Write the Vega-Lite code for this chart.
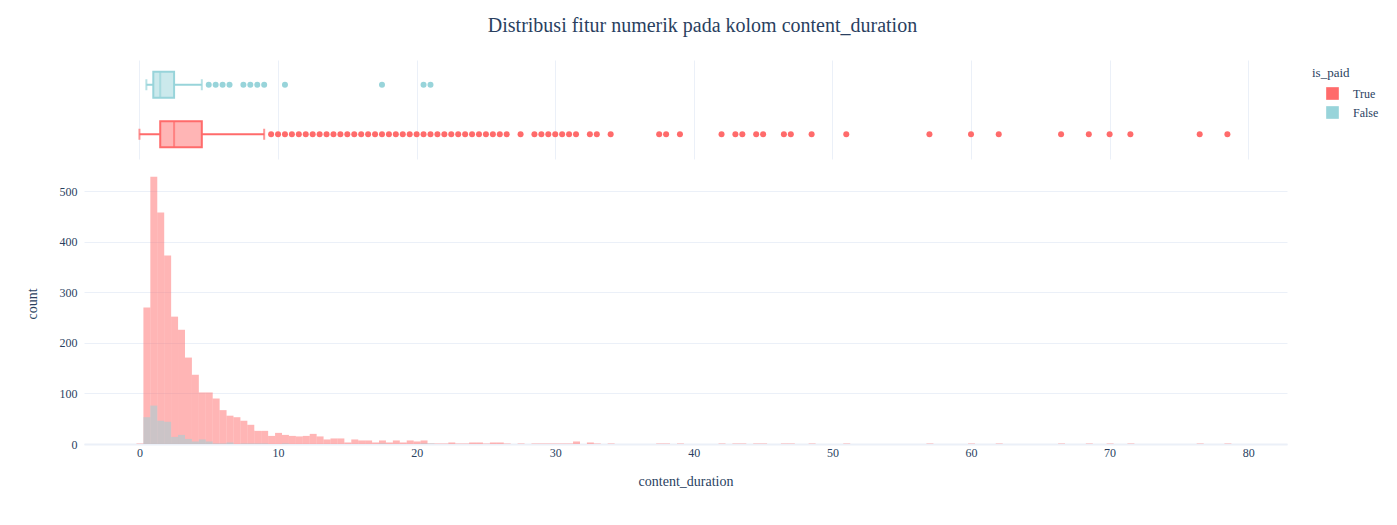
{
  "$schema": "https://vega.github.io/schema/vega-lite/v6.json",
  "background": "white",
  "padding": {"left": 25, "top": 16, "right": 5, "bottom": 5},
  "title": {"text": "Distribusi fitur numerik pada kolom content_duration", "font": "Liberation Serif", "fontSize": 20, "fontWeight": "normal", "color": "#2a3f5f", "anchor": "middle", "offset": 24, "dx": -3},
  "config": {
    "font": "Liberation Serif",
    "view": {"stroke": null},
    "axis": {"labelFont": "Liberation Serif", "titleFont": "Liberation Serif", "labelColor": "#2a3f5f", "titleColor": "#2a3f5f", "labelFontSize": 12, "titleFontSize": 14, "titleFontWeight": "normal", "gridColor": "#EBF0F8", "ticks": false, "domain": false},
    "legend": {"titleFont": "Liberation Serif", "labelFont": "Liberation Serif", "titleFontSize": 13, "labelFontSize": 12, "titleFontWeight": "normal", "titleColor": "#2a3f5f", "labelColor": "#2a3f5f", "symbolType": "square", "symbolSize": 160, "symbolOpacity": 1, "symbolStrokeWidth": 0, "rowPadding": 6, "symbolOffset": 14, "labelOffset": 14, "offset": 18, "padding": 7, "titlePadding": 7}
  },
  "resolve": {"scale": {"color": "shared"}, "legend": {"color": "shared"}},
  "datasets": {
    "boxstats": [
      {"is_paid": "True", "lower": 0, "q1": 1.5, "median": 2.5, "q3": 4.5, "upper": 9.0},
      {"is_paid": "False", "lower": 0.5, "q1": 1.0, "median": 1.5, "q3": 2.5, "upper": 4.5}
    ],
    "outliers": [
      {"is_paid": "True", "content_duration": 9.5}, {"is_paid": "True", "content_duration": 10}, {"is_paid": "True", "content_duration": 10.5}, {"is_paid": "True", "content_duration": 11}, {"is_paid": "True", "content_duration": 11.5}, {"is_paid": "True", "content_duration": 12}, {"is_paid": "True", "content_duration": 12.5}, {"is_paid": "True", "content_duration": 13}, {"is_paid": "True", "content_duration": 13.5}, {"is_paid": "True", "content_duration": 14}, {"is_paid": "True", "content_duration": 14.5}, {"is_paid": "True", "content_duration": 15}, {"is_paid": "True", "content_duration": 15.5}, {"is_paid": "True", "content_duration": 16}, {"is_paid": "True", "content_duration": 16.5}, {"is_paid": "True", "content_duration": 17}, {"is_paid": "True", "content_duration": 17.5}, {"is_paid": "True", "content_duration": 18}, {"is_paid": "True", "content_duration": 18.5}, {"is_paid": "True", "content_duration": 19}, {"is_paid": "True", "content_duration": 19.5}, {"is_paid": "True", "content_duration": 20}, {"is_paid": "True", "content_duration": 20.5}, {"is_paid": "True", "content_duration": 21}, {"is_paid": "True", "content_duration": 21.5}, {"is_paid": "True", "content_duration": 22}, {"is_paid": "True", "content_duration": 22.5}, {"is_paid": "True", "content_duration": 23}, {"is_paid": "True", "content_duration": 23.5}, {"is_paid": "True", "content_duration": 24}, {"is_paid": "True", "content_duration": 24.5}, {"is_paid": "True", "content_duration": 25}, {"is_paid": "True", "content_duration": 25.5}, {"is_paid": "True", "content_duration": 26}, {"is_paid": "True", "content_duration": 26.5},
      {"is_paid": "True", "content_duration": 27.5}, {"is_paid": "True", "content_duration": 28.5}, {"is_paid": "True", "content_duration": 29}, {"is_paid": "True", "content_duration": 29.5}, {"is_paid": "True", "content_duration": 30}, {"is_paid": "True", "content_duration": 30.5}, {"is_paid": "True", "content_duration": 31}, {"is_paid": "True", "content_duration": 31.5}, {"is_paid": "True", "content_duration": 32.5}, {"is_paid": "True", "content_duration": 33}, {"is_paid": "True", "content_duration": 34}, {"is_paid": "True", "content_duration": 37.5}, {"is_paid": "True", "content_duration": 38}, {"is_paid": "True", "content_duration": 39}, {"is_paid": "True", "content_duration": 42}, {"is_paid": "True", "content_duration": 43}, {"is_paid": "True", "content_duration": 43.5}, {"is_paid": "True", "content_duration": 44.5}, {"is_paid": "True", "content_duration": 45}, {"is_paid": "True", "content_duration": 46.5}, {"is_paid": "True", "content_duration": 47}, {"is_paid": "True", "content_duration": 48.5}, {"is_paid": "True", "content_duration": 51}, {"is_paid": "True", "content_duration": 57}, {"is_paid": "True", "content_duration": 60}, {"is_paid": "True", "content_duration": 62}, {"is_paid": "True", "content_duration": 66.5}, {"is_paid": "True", "content_duration": 68.5}, {"is_paid": "True", "content_duration": 70}, {"is_paid": "True", "content_duration": 71.5}, {"is_paid": "True", "content_duration": 76.5}, {"is_paid": "True", "content_duration": 78.5},
      {"is_paid": "False", "content_duration": 5}, {"is_paid": "False", "content_duration": 5.5}, {"is_paid": "False", "content_duration": 6}, {"is_paid": "False", "content_duration": 6.5}, {"is_paid": "False", "content_duration": 7.5}, {"is_paid": "False", "content_duration": 8}, {"is_paid": "False", "content_duration": 8.5}, {"is_paid": "False", "content_duration": 9}, {"is_paid": "False", "content_duration": 10.5}, {"is_paid": "False", "content_duration": 17.5}, {"is_paid": "False", "content_duration": 20.5}, {"is_paid": "False", "content_duration": 21}
    ],
    "hist": [
      {"is_paid": "True", "content_duration": 0, "count": 1}, {"is_paid": "True", "content_duration": 0.5, "count": 270}, {"is_paid": "True", "content_duration": 1, "count": 529}, {"is_paid": "True", "content_duration": 1.5, "count": 458}, {"is_paid": "True", "content_duration": 2, "count": 373}, {"is_paid": "True", "content_duration": 2.5, "count": 252}, {"is_paid": "True", "content_duration": 3, "count": 226}, {"is_paid": "True", "content_duration": 3.5, "count": 171}, {"is_paid": "True", "content_duration": 4, "count": 137}, {"is_paid": "True", "content_duration": 4.5, "count": 102}, {"is_paid": "True", "content_duration": 5, "count": 102}, {"is_paid": "True", "content_duration": 5.5, "count": 90}, {"is_paid": "True", "content_duration": 6, "count": 67}, {"is_paid": "True", "content_duration": 6.5, "count": 56}, {"is_paid": "True", "content_duration": 7, "count": 53}, {"is_paid": "True", "content_duration": 7.5, "count": 46}, {"is_paid": "True", "content_duration": 8, "count": 38}, {"is_paid": "True", "content_duration": 8.5, "count": 26}, {"is_paid": "True", "content_duration": 9, "count": 26}, {"is_paid": "True", "content_duration": 9.5, "count": 16}, {"is_paid": "True", "content_duration": 10, "count": 22}, {"is_paid": "True", "content_duration": 10.5, "count": 18}, {"is_paid": "True", "content_duration": 11, "count": 16}, {"is_paid": "True", "content_duration": 11.5, "count": 15}, {"is_paid": "True", "content_duration": 12, "count": 16}, {"is_paid": "True", "content_duration": 12.5, "count": 20}, {"is_paid": "True", "content_duration": 13, "count": 15}, {"is_paid": "True", "content_duration": 13.5, "count": 9}, {"is_paid": "True", "content_duration": 14, "count": 11}, {"is_paid": "True", "content_duration": 14.5, "count": 11}, {"is_paid": "True", "content_duration": 15, "count": 3}, {"is_paid": "True", "content_duration": 15.5, "count": 9}, {"is_paid": "True", "content_duration": 16, "count": 7}, {"is_paid": "True", "content_duration": 16.5, "count": 7}, {"is_paid": "True", "content_duration": 17, "count": 3}, {"is_paid": "True", "content_duration": 17.5, "count": 7}, {"is_paid": "True", "content_duration": 18, "count": 3}, {"is_paid": "True", "content_duration": 18.5, "count": 7}, {"is_paid": "True", "content_duration": 19, "count": 3}, {"is_paid": "True", "content_duration": 19.5, "count": 7}, {"is_paid": "True", "content_duration": 20, "count": 5}, {"is_paid": "True", "content_duration": 20.5, "count": 7}, {"is_paid": "True", "content_duration": 21, "count": 1}, {"is_paid": "True", "content_duration": 21.5, "count": 1}, {"is_paid": "True", "content_duration": 22, "count": 1}, {"is_paid": "True", "content_duration": 22.5, "count": 3}, {"is_paid": "True", "content_duration": 23, "count": 1}, {"is_paid": "True", "content_duration": 23.5, "count": 1}, {"is_paid": "True", "content_duration": 24, "count": 3}, {"is_paid": "True", "content_duration": 24.5, "count": 3}, {"is_paid": "True", "content_duration": 25, "count": 1}, {"is_paid": "True", "content_duration": 25.5, "count": 3}, {"is_paid": "True", "content_duration": 26, "count": 3}, {"is_paid": "True", "content_duration": 26.5, "count": 1}, {"is_paid": "True", "content_duration": 27.5, "count": 1}, {"is_paid": "True", "content_duration": 28.5, "count": 1}, {"is_paid": "True", "content_duration": 29, "count": 1}, {"is_paid": "True", "content_duration": 29.5, "count": 1}, {"is_paid": "True", "content_duration": 30, "count": 1}, {"is_paid": "True", "content_duration": 30.5, "count": 1}, {"is_paid": "True", "content_duration": 31, "count": 1}, {"is_paid": "True", "content_duration": 31.5, "count": 5}, {"is_paid": "True", "content_duration": 32.5, "count": 3}, {"is_paid": "True", "content_duration": 33, "count": 1}, {"is_paid": "True", "content_duration": 34, "count": 1}, {"is_paid": "True", "content_duration": 37.5, "count": 1}, {"is_paid": "True", "content_duration": 38, "count": 1}, {"is_paid": "True", "content_duration": 39, "count": 1}, {"is_paid": "True", "content_duration": 42, "count": 1}, {"is_paid": "True", "content_duration": 43, "count": 1}, {"is_paid": "True", "content_duration": 43.5, "count": 1}, {"is_paid": "True", "content_duration": 44.5, "count": 1}, {"is_paid": "True", "content_duration": 45, "count": 1}, {"is_paid": "True", "content_duration": 46.5, "count": 1}, {"is_paid": "True", "content_duration": 47, "count": 1}, {"is_paid": "True", "content_duration": 48.5, "count": 1}, {"is_paid": "True", "content_duration": 51, "count": 1}, {"is_paid": "True", "content_duration": 57, "count": 1}, {"is_paid": "True", "content_duration": 60, "count": 1}, {"is_paid": "True", "content_duration": 62, "count": 1}, {"is_paid": "True", "content_duration": 66.5, "count": 1}, {"is_paid": "True", "content_duration": 68.5, "count": 1}, {"is_paid": "True", "content_duration": 70, "count": 1}, {"is_paid": "True", "content_duration": 71.5, "count": 1}, {"is_paid": "True", "content_duration": 76.5, "count": 1}, {"is_paid": "True", "content_duration": 78.5, "count": 1},
      {"is_paid": "False", "content_duration": 0.5, "count": 53}, {"is_paid": "False", "content_duration": 1, "count": 76}, {"is_paid": "False", "content_duration": 1.5, "count": 46}, {"is_paid": "False", "content_duration": 2, "count": 44}, {"is_paid": "False", "content_duration": 2.5, "count": 14}, {"is_paid": "False", "content_duration": 3, "count": 18}, {"is_paid": "False", "content_duration": 3.5, "count": 10}, {"is_paid": "False", "content_duration": 4, "count": 5}, {"is_paid": "False", "content_duration": 4.5, "count": 9}, {"is_paid": "False", "content_duration": 5, "count": 5}, {"is_paid": "False", "content_duration": 5.5, "count": 1}, {"is_paid": "False", "content_duration": 6, "count": 1}, {"is_paid": "False", "content_duration": 6.5, "count": 3}, {"is_paid": "False", "content_duration": 7.5, "count": 1}, {"is_paid": "False", "content_duration": 8, "count": 1}, {"is_paid": "False", "content_duration": 8.5, "count": 1}, {"is_paid": "False", "content_duration": 9, "count": 1}, {"is_paid": "False", "content_duration": 10.5, "count": 1}, {"is_paid": "False", "content_duration": 17.5, "count": 1}, {"is_paid": "False", "content_duration": 20.5, "count": 1}, {"is_paid": "False", "content_duration": 21, "count": 1}
    ]
  },
  "spacing": 4,
  "vconcat": [
    {
      "width": 1203,
      "height": 99,
      "encoding": {
        "y": {"field": "is_paid", "type": "nominal", "scale": {"type": "band", "domain": ["False", "True"], "paddingInner": 0, "paddingOuter": 0}, "axis": null},
        "color": {"field": "is_paid", "type": "nominal", "scale": {"domain": ["True", "False"], "range": ["#FF6B6B", "#98D4DA"]}, "legend": {"title": "is_paid", "symbolType": "square"}}
      },
      "layer": [
        {
          "data": {"name": "boxstats"},
          "mark": {"type": "rule", "strokeWidth": 2},
          "encoding": {
            "x": {"field": "lower", "type": "quantitative", "scale": {"domain": [-4, 82.8], "nice": false, "zero": false}, "axis": {"values": [0, 10, 20, 30, 40, 50, 60, 70, 80], "labels": false, "title": null, "grid": true}},
            "x2": {"field": "q1"}
          }
        },
        {
          "data": {"name": "boxstats"},
          "mark": {"type": "rule", "strokeWidth": 2},
          "encoding": {
            "x": {"field": "q3", "type": "quantitative"},
            "x2": {"field": "upper"}
          }
        },
        {
          "data": {"name": "boxstats"},
          "mark": {"type": "tick", "thickness": 2, "size": 11, "orient": "vertical"},
          "encoding": {"x": {"field": "lower", "type": "quantitative"}}
        },
        {
          "data": {"name": "boxstats"},
          "mark": {"type": "tick", "thickness": 2, "size": 11, "orient": "vertical"},
          "encoding": {"x": {"field": "upper", "type": "quantitative"}}
        },
        {
          "data": {"name": "boxstats"},
          "mark": {"type": "bar", "size": 26, "fillOpacity": 0.5, "strokeWidth": 2},
          "encoding": {
            "x": {"field": "q1", "type": "quantitative"},
            "x2": {"field": "q3"},
            "stroke": {"field": "is_paid", "type": "nominal", "scale": {"domain": ["True", "False"], "range": ["#FF6B6B", "#98D4DA"]}, "legend": null}
          }
        },
        {
          "data": {"name": "boxstats"},
          "mark": {"type": "tick", "thickness": 2, "size": 26, "orient": "vertical"},
          "encoding": {"x": {"field": "median", "type": "quantitative"}}
        },
        {
          "data": {"name": "outliers"},
          "mark": {"type": "point", "filled": true, "opacity": 1, "size": 36},
          "encoding": {"x": {"field": "content_duration", "type": "quantitative"}}
        }
      ]
    },
    {
      "width": 1203,
      "height": 281,
      "data": {"name": "hist"},
      "encoding": {
        "x": {"field": "content_duration", "type": "quantitative", "bin": {"step": 0.5, "extent": [-0.25, 79.25], "nice": false}, "scale": {"domain": [-4, 82.8], "nice": false, "zero": false}, "axis": {"values": [0, 10, 20, 30, 40, 50, 60, 70, 80], "format": "d", "title": "content_duration", "labelPadding": 3, "titlePadding": 16, "grid": false, "domain": true, "domainColor": "#EBF0F8", "domainWidth": 2}},
        "y": {"aggregate": "sum", "field": "count", "type": "quantitative", "stack": null, "scale": {"domain": [0, 556], "nice": false}, "axis": {"values": [0, 100, 200, 300, 400, 500], "title": "count", "labelPadding": 7, "titlePadding": 20, "grid": true}},
        "color": {"field": "is_paid", "type": "nominal", "scale": {"domain": ["True", "False"], "range": ["#FF6B6B", "#98D4DA"]}, "legend": {"title": "is_paid", "symbolType": "square"}}
      },
      "layer": [
        {"transform": [{"filter": "datum.is_paid == 'True'"}], "mark": {"type": "bar", "opacity": 0.5, "binSpacing": 0}},
        {"transform": [{"filter": "datum.is_paid == 'False'"}], "mark": {"type": "bar", "opacity": 0.5, "binSpacing": 0}}
      ]
    }
  ]
}
